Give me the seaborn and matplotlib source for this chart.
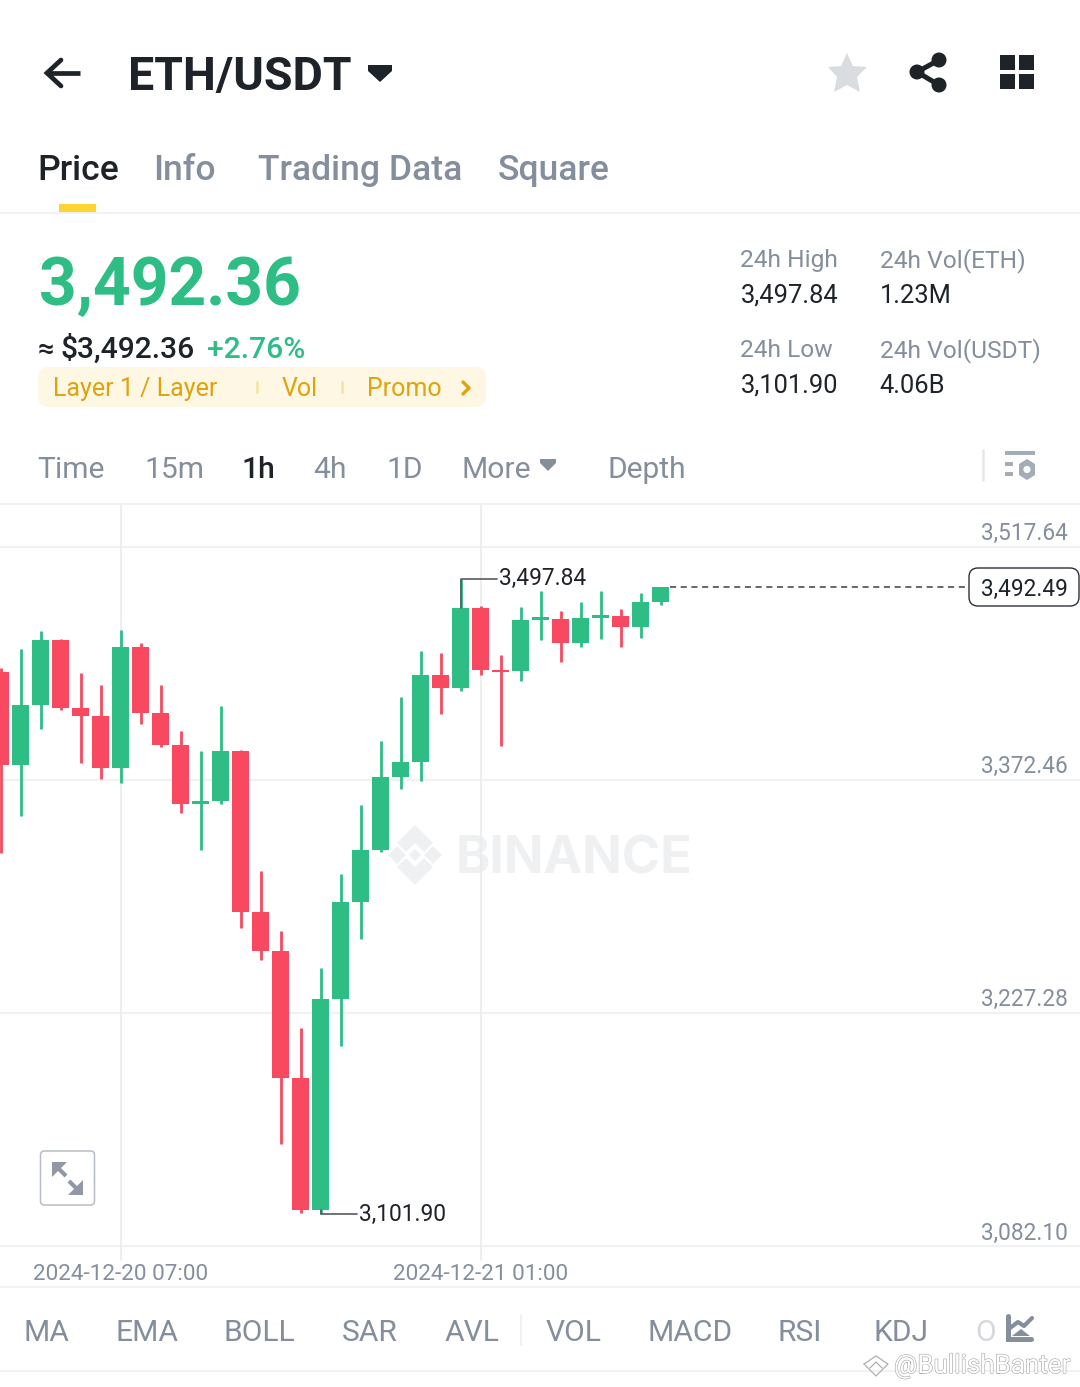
"""
Recreates a Binance ETH/USDT 1h candlestick screen with seaborn and matplotlib.
"""
import matplotlib
matplotlib.use('Agg')
import matplotlib.pyplot as plt
from matplotlib import patheffects
from matplotlib.patches import Circle, FancyBboxPatch, Polygon, Rectangle
import pandas as pd
import seaborn as sns

# candle values, oldest first
opens = [3439.8, 3381.8, 3419.4, 3459.7, 3417.5, 3412.3, 3379.9, 3455.5, 3414.2, 3394.0, 3357.3, 3359.5,
         3390.7, 3290.4, 3265.9, 3186.7, 3104.5, 3236.0, 3296.6, 3328.8, 3374.5, 3383.4, 3438.0, 3430.0,
         3479.6, 3441.0, 3440.5, 3472.3, 3472.6, 3458.0, 3473.4, 3474.8, 3468.0, 3483.3]
closes = [3381.8, 3419.4, 3459.7, 3417.5, 3412.3, 3379.9, 3455.5, 3414.2, 3394.0, 3357.3, 3359.3, 3390.7,
          3290.4, 3265.9, 3186.7, 3104.5, 3236.0, 3296.6, 3328.8, 3374.5, 3383.4, 3438.0, 3430.0, 3479.6,
          3441.1, 3439.5, 3472.3, 3473.8, 3458.0, 3473.4, 3475.2, 3468.0, 3483.3, 3492.49]
highs = [3442.4, 3454.0, 3465.5, 3460.3, 3438.9, 3431.4, 3465.9, 3457.6, 3431.4, 3403.1, 3390.5, 3418.7,
         3391.1, 3315.5, 3278.1, 3218.1, 3255.1, 3313.8, 3356.8, 3396.5, 3423.9, 3452.6, 3451.8, 3497.84,
         3480.7, 3450.3, 3480.4, 3490.4, 3477.9, 3483.5, 3490.4, 3479.0, 3489.1, 3493.0]
lows = [3327.2, 3350.2, 3404.2, 3415.9, 3382.8, 3373.2, 3370.7, 3407.1, 3393.2, 3352.0, 3328.6, 3357.7,
        3280.2, 3260.5, 3145.4, 3102.8, 3101.90, 3206.7, 3273.4, 3327.9, 3367.0, 3371.8, 3413.5, 3428.1,
        3438.0, 3393.4, 3434.3, 3459.5, 3445.8, 3455.5, 3460.3, 3455.3, 3461.1, 3481.5]

price_ticks = [3517.64, 3372.46, 3227.28, 3082.10]
date_ticks = [6, 24]
date_labels = ['2024-12-20 07:00', '2024-12-21 01:00']
last_price = 3492.49
day_high = 3497.84
day_low = 3101.90

tabs = ['Price', 'Info', 'Trading Data', 'Square']
intervals = ['Time', '15m', '1h', '4h', '1D', 'More', 'Depth']
indicators = ['MA', 'EMA', 'BOLL', 'SAR', 'AVL', 'VOL', 'MACD', 'RSI', 'KDJ', 'O']
tag_labels = ['Layer 1 / Layer', 'Vol', 'Promo']
stat_names = ['24h High', '24h Vol(ETH)', '24h Low', '24h Vol(USDT)']
stat_values = ['3,497.84', '1.23M', '3,101.90', '4.06B']

GREEN = '#2ebd85'
RED = '#f84960'
DARK = '#1e2329'
GREY = '#848e9c'
RULE = '#f0f1f2'
W, H = 1080, 1387


def txt(ax, x, y, s, px, color=DARK, weight='normal', ha='left', **kw):
    """Text placed by its baseline in screen pixels; px is the font size in pixels."""
    return ax.text(x, y, s, fontsize=px * 0.72, color=color, fontweight=weight, ha=ha, va='baseline', **kw)


def draw_header(ax):
    """Top bar, tabs, price block and the interval row."""
    ax.plot([47, 80], [73, 73], color=DARK, lw=3.4, solid_capstyle='butt')
    ax.plot([61, 47, 61], [60, 73, 86], color=DARK, lw=3.4, solid_joinstyle='miter')
    txt(ax, 128, 90, 'ETH/USDT', 46.5, weight='bold')
    ax.add_patch(Polygon([(368, 65), (392, 65), (392, 71), (380, 82), (368, 71)], color=DARK, lw=0))

    ax.add_patch(Polygon([(847, 53), (853, 66), (867, 67), (857, 77), (860, 92), (847, 85), (834, 92),
                          (837, 77), (828, 67), (841, 66)], color='#d9dce1', lw=0, joinstyle='round'))
    ax.plot([939, 917, 939], [60, 72, 85], color=DARK, lw=3.6)
    for cx, cy in [(917, 72), (939, 60), (939, 85)]:
        ax.add_patch(Circle((cx, cy), 7.5, color=DARK, lw=0))
    for gx in (1000, 1019):
        for gy in (55, 74):
            ax.add_patch(Rectangle((gx, gy), 15, 15, color=DARK, lw=0))

    for label, x in zip(tabs, [37.5, 153.5, 258, 497.5]):
        txt(ax, x, 180, label, 35.5, color=DARK if label == 'Price' else GREY, weight='medium')
    ax.add_patch(Rectangle((59, 204), 37, 8, color='#fcd535', lw=0))
    ax.plot([0, W], [213, 213], color=RULE, lw=1.4)

    txt(ax, 39, 305, '3,492.36', 66, color=GREEN, weight='bold')
    txt(ax, 38, 358, '≈', 29, weight='medium')
    txt(ax, 60.5, 358, '$3,492.36', 30, weight='medium')
    txt(ax, 207, 358, '+2.76%', 30, color=GREEN, weight='medium')

    ax.add_patch(FancyBboxPatch((38, 367), 448, 40, boxstyle='round,pad=0,rounding_size=11', mutation_aspect=1,
                                facecolor='#fdf7e3', edgecolor='none', lw=0))
    for label, x in zip(tag_labels, [53, 282, 367]):
        txt(ax, x, 396, label, 25, color='#dfa30b')
    for x in (257, 342):
        ax.plot([x, x], [382, 392], color='#f5e3a8', lw=2)
    ax.plot([463, 469, 463], [382, 388, 394], color='#dfa30b', lw=2.4)

    for label, x in zip(intervals, [37, 144, 242, 313, 386, 461, 607]):
        is_active = label == '1h'
        txt(ax, x, 477.5, label, 30, color=DARK if is_active else GREY, weight='medium' if is_active else 'normal')
    ax.add_patch(Polygon([(540, 459), (556, 459), (556, 463), (548, 471), (540, 463)], color=GREY, lw=0))
    ax.plot([983, 983], [450, 480], color='#e6e8ea', lw=1.8)
    ax.add_patch(Rectangle((1005, 451), 30, 4, color='#a4acb7', lw=0))
    ax.add_patch(Rectangle((1005, 462), 8, 4, color='#a4acb7', lw=0))
    ax.add_patch(Rectangle((1005, 472), 8, 4, color='#a4acb7', lw=0))
    ax.add_patch(Polygon([(1027, 459), (1035, 464), (1035, 475), (1027, 480), (1019, 475), (1019, 464)],
                         color='#a4acb7', lw=0))
    ax.add_patch(Circle((1027, 469.5), 3.6, color='white', lw=0))

    stat_xs = [740.5, 879.5, 740.5, 879.5]
    name_ys = [267, 267, 357, 357]
    value_ys = [303, 303, 393, 393]
    for name, value, x, ny, vy in zip(stat_names, stat_values, stat_xs, name_ys, value_ys):
        txt(ax, x, ny, name, 24.5, color=GREY)
        txt(ax, x, vy, value, 25.5)
    ax.plot([0, W], [504, 504], color=RULE, lw=1.4)


def draw_watermark(ax):
    """BINANCE mark behind the candles."""
    mark = '#eef0f2'
    ax.add_patch(Polygon([(415, 825), (433, 843), (424, 852), (415, 843), (406, 852), (397, 843)], color=mark, lw=0))
    ax.add_patch(Polygon([(415, 885), (433, 867), (424, 858), (415, 867), (406, 858), (397, 867)], color=mark, lw=0))
    ax.add_patch(Polygon([(397, 846), (406, 855), (397, 864), (388, 855)], color=mark, lw=0))
    ax.add_patch(Polygon([(433, 846), (442, 855), (433, 864), (424, 855)], color=mark, lw=0))
    ax.add_patch(Polygon([(415, 849), (421, 855), (415, 861), (409, 855)], color=mark, lw=0))
    txt(ax, 456, 874, 'BINANCE', 52, color=mark, weight='bold', family='Inter')


def draw_candles(ax):
    """Candles, price grid and the high, low and last price markers."""
    candles = pd.DataFrame({'idx': range(len(opens)), 'open': opens, 'close': closes, 'high': highs, 'low': lows})
    candles['bottom'] = candles[['open', 'close']].min(axis=1)
    candles['body'] = (candles['close'] - candles['open']).abs()
    candles['rising'] = candles['close'] >= candles['open']

    for rising, colour in [(True, GREEN), (False, RED)]:
        part = candles[candles['rising'] == rising]
        ax.vlines(part['idx'], part['low'], part['high'], color=colour, lw=2.0, zorder=3)
        sns.barplot(data=part, x='idx', y='body', bottom=part['bottom'].to_numpy(), native_scale=True, color=colour,
                    saturation=1, width=0.86, errorbar=None, linewidth=0, ax=ax, zorder=3)

    # whole screen is one pixel grid: 20 px per candle, first candle centred at x = 0.5
    ax.set_xlim(-0.025, 53.975)
    ax.set_ylim(3056.55, 3543.81)
    ax.set_xlabel('')
    ax.set_ylabel('')
    ax.set_xticks([])
    ax.set_yticks([])
    ax.patch.set_alpha(0)
    sns.despine(ax=ax, left=True, bottom=True)

    for price in price_ticks:
        ax.axhline(price, color=RULE, lw=1.5, zorder=1)
    for idx in date_ticks:
        ax.axvline(idx, ymin=0.034, color='#e9ebee', lw=1.2, zorder=1)

    ax.plot([23, 23, 24.8], [3479.6, day_high, day_high], color='#555b64', lw=1.2, zorder=4)
    ax.text(24.9, day_high, f'{day_high:,.2f}', fontsize=16.4, color=DARK, va='center', ha='left', zorder=5)
    ax.plot([16, 16, 17.8], [3104.5, day_low, day_low], color='#555b64', lw=1.2, zorder=4)
    ax.text(17.9, day_low, f'{day_low:,.2f}', fontsize=16.4, color=DARK, va='center', ha='left', zorder=5)
    ax.plot([33.45, 48.3], [last_price, last_price], color='#3a4048', lw=1.1, ls=(0, (4, 3)), zorder=4)


def draw_footer(ax):
    """Price labels, date labels, expand button and the indicator row."""
    for price, y in zip(price_ticks, [539.5, 772.5, 1005.5, 1239.5]):
        txt(ax, 1067.5, y, f'{price:,.2f}', 22.6, color=GREY, ha='right')
    ax.add_patch(FancyBboxPatch((969, 568), 110, 38, boxstyle='round,pad=0,rounding_size=9', mutation_aspect=1,
                                facecolor='white', edgecolor='#2b3139', lw=1.0, zorder=6))
    txt(ax, 1067.5, 596, f'{last_price:,.2f}', 22.6, ha='right', zorder=7)

    for label, x in zip(date_labels, [121, 481]):
        txt(ax, x, 1280.5, label, 22.5, color=GREY, ha='center')
    ax.plot([0, W], [1287, 1287], color=RULE, lw=1.4)
    ax.plot([0, W], [1371, 1371], color=RULE, lw=1.4)

    ax.add_patch(FancyBboxPatch((40.5, 1151), 54, 54, boxstyle='round,pad=0,rounding_size=4', mutation_aspect=1,
                                facecolor='white', edgecolor='#b7bdc6', lw=1.1))
    ax.add_patch(Polygon([(52, 1162), (67, 1162), (52, 1177)], color='#9098a4', lw=0))
    ax.plot([57, 66], [1167, 1176], color='#9098a4', lw=3, solid_capstyle='butt')
    ax.add_patch(Polygon([(83, 1195), (68, 1195), (83, 1180)], color='#9098a4', lw=0))
    ax.plot([78, 69], [1190, 1181], color='#9098a4', lw=3, solid_capstyle='butt')

    ind_xs = [23.5, 115, 223, 341.5, 445, 545.5, 648, 777, 874, 975]
    for label, x in zip(indicators, ind_xs):
        txt(ax, x, 1341, label, 30, color='#d4d7dc' if label == 'O' else GREY)
    ax.plot([521, 521], [1315, 1345], color=RULE, lw=1.4)

    ax.plot([1008, 1008, 1031], [1316, 1339, 1339], color=GREY, lw=3.6, solid_joinstyle='miter')
    ax.plot([1010, 1018, 1024, 1032], [1328, 1322, 1326, 1318], color=GREY, lw=3)
    ax.add_patch(Polygon([(1012, 1336), (1030, 1336), (1021, 1329)], color=GREY, lw=0))

    outline = [patheffects.withStroke(linewidth=0.9, foreground='#ababab')]
    txt(ax, 894, 1373, '@BullishBanter', 26, color='white', path_effects=outline, zorder=8)
    ax.plot([864, 876, 888, 876, 864], [1364, 1376, 1364, 1356, 1364], color='#b0b0b0', lw=0.9)
    ax.plot([870, 876, 882], [1368, 1362, 1368], color='#b0b0b0', lw=0.9)


def main():
    sns.set_theme(style='white')
    plt.rcParams['font.family'] = ['Roboto', 'DejaVu Sans']

    fig = plt.figure(figsize=(W / 100, H / 100), dpi=100, facecolor='white')

    back = fig.add_axes([0, 0, 1, 1])
    back.set_xlim(0, W)
    back.set_ylim(H, 0)
    back.axis('off')
    draw_header(back)
    draw_watermark(back)

    chart = fig.add_axes([0, 1 - 1287 / H, 1, (1287 - 505) / H])
    draw_candles(chart)

    front = fig.add_axes([0, 0, 1, 1])
    front.set_xlim(0, W)
    front.set_ylim(H, 0)
    front.axis('off')
    draw_footer(front)

    fig.savefig('out.png', dpi=100)


if __name__ == '__main__':
    main()
